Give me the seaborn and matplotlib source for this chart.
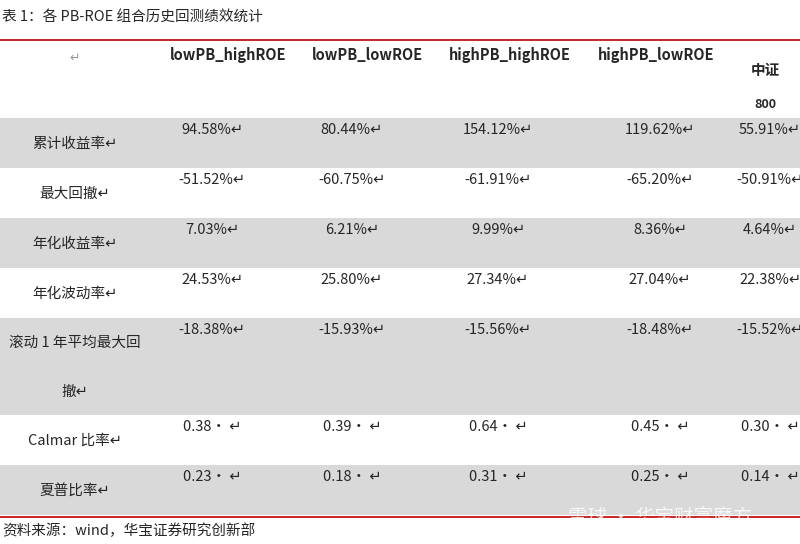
import matplotlib.pyplot as plt
import seaborn as sns

title = "表 1：各 PB-ROE 组合历史回测绩效统计"
source = "资料来源：wind，华宝证券研究创新部"
columns = ["lowPB_highROE", "lowPB_lowROE", "highPB_highROE", "highPB_lowROE"]
row_labels = ["累计收益率", "最大回撤", "年化收益率", "年化波动率",
              "滚动 1 年平均最大回撤", "Calmar 比率", "夏普比率"]
lowpb_highroe = ["94.58%", "-51.52%", "7.03%", "24.53%", "-18.38%", "0.38", "0.23"]
lowpb_lowroe = ["80.44%", "-60.75%", "6.21%", "25.80%", "-15.93%", "0.39", "0.18"]
highpb_highroe = ["154.12%", "-61.91%", "9.99%", "27.34%", "-15.56%", "0.64", "0.31"]
highpb_lowroe = ["119.62%", "-65.20%", "8.36%", "27.04%", "-18.48%", "0.45", "0.25"]
csi800 = ["55.91%", "-50.91%", "4.64%", "22.38%", "-15.52%", "0.30", "0.14"]

sns.set_theme(style="white")
plt.rcParams["font.family"] = ["Noto Sans CJK SC", "DejaVu Sans"]

fig = plt.figure(figsize=(8, 5.44), dpi=100)
ax = fig.add_axes([0, 0, 1, 1])
ax.set_xlim(0, 800)
ax.set_ylim(544, 0)
ax.axis("off")

GRAY = "#d9d9d9"
MARK = "#999999"
row_edges = [118, 168, 218, 268, 318, 415, 465, 515]

ax.text(2, 17, title, fontsize=10.5, va="center", ha="left")
ax.axhline(40, color="#c00000", lw=1.2)
ax.axhline(517, color="#c00000", lw=1.2)

head_x = [228, 367, 510, 656]
for x, c in zip(head_x, columns):
    ax.text(x, 55, c, fontsize=10.5, fontweight="bold", ha="center", va="center")
ax.text(765, 70, "中证", fontsize=10.5, fontweight="bold", ha="center", va="center")
ax.text(765, 104, "800", fontsize=9, fontweight="bold", ha="center", va="center")
ax.text(75, 58, "↵", fontsize=9, color=MARK, ha="center", va="center")

val_x = [212, 352, 498, 660, 770]
series = [lowpb_highroe, lowpb_lowroe, highpb_highroe, highpb_lowroe, csi800]
for i, label in enumerate(row_labels):
    y0, y1 = row_edges[i], row_edges[i + 1]
    if i % 2 == 0:
        ax.axhspan(y0, y1, color=GRAY, lw=0)
    if i == 4:
        ax.text(75, 343, "滚动 1 年平均最大回", fontsize=10.5, ha="center", va="center")
        ax.text(75, 392, "撤↵", fontsize=10.5, ha="center", va="center")
    else:
        ax.text(75, y0 + 26, label + "↵", fontsize=10.5, ha="center", va="center")
    for x, s in zip(val_x, series):
        v = s[i]
        txt = v + ("↵" if "%" in v else "· ↵")
        ax.text(x, y0 + 12, txt, fontsize=10.5, ha="center", va="center")

ax.text(2, 531, source, fontsize=10.5, ha="left", va="center")
ax.text(660, 517, "雪球 · 华宝财富魔方", fontsize=14, color="white", alpha=0.8,
        ha="center", va="center")

fig.savefig("out.png", dpi=100)
